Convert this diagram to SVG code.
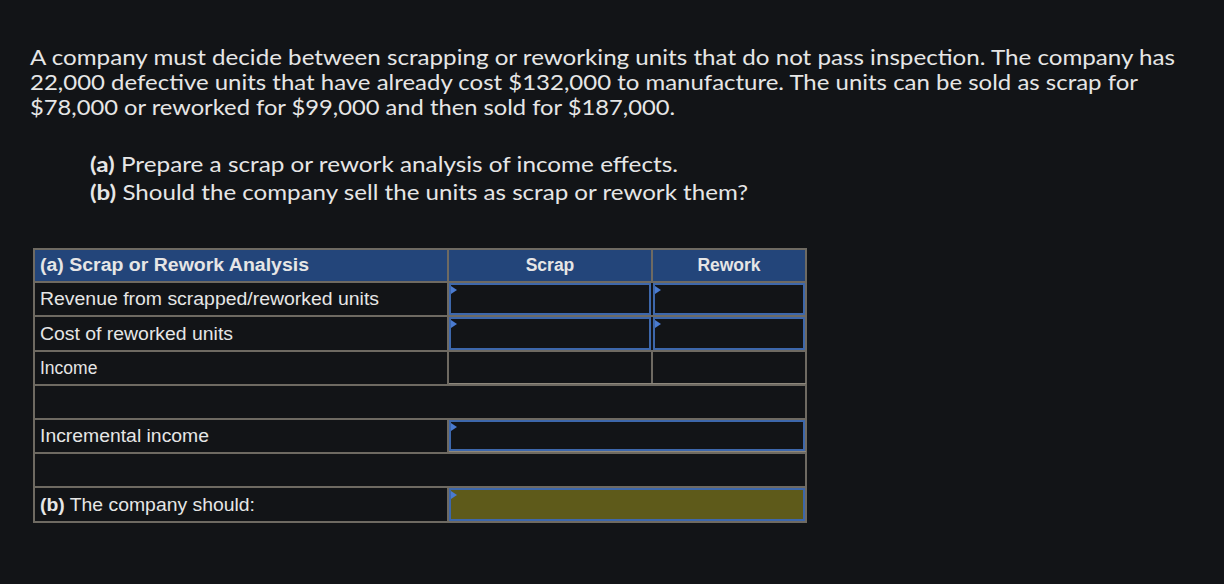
<svg xmlns="http://www.w3.org/2000/svg" width="1224" height="584" viewBox="0 0 1224 584">
<style>
.t{font-family:"Lato","Liberation Sans",sans-serif;fill:#e6e6e6}
.q{font-size:20.5px}
.c{font-size:17.5px;font-family:"Liberation Sans",Arial,sans-serif}
.b{font-weight:bold}
.cell{fill:#121417;stroke:#6e6a62;stroke-width:2}
.hd{fill:#23457a;stroke:#6e6a62;stroke-width:2}
.in{fill:#121417;stroke:#3d67ab;stroke-width:2}
.flag{fill:#4a7bd0}
.rule{fill:#8c877c}
</style>
<rect width="1224" height="584" fill="#121417"/>
<g id="question">
<text class="t q" x="30" y="65" textLength="1145" lengthAdjust="spacingAndGlyphs">A company must decide between scrapping or reworking units that do not pass inspection. The company has</text>
<text class="t q" x="30" y="90" textLength="1108" lengthAdjust="spacingAndGlyphs">22,000 defective units that have already cost $132,000 to manufacture. The units can be sold as scrap for</text>
<text class="t q" x="30" y="115" textLength="645" lengthAdjust="spacingAndGlyphs">$78,000 or reworked for $99,000 and then sold for $187,000.</text>
<text class="t q" x="90" y="172" textLength="588" lengthAdjust="spacingAndGlyphs"><tspan class="b">(a)</tspan> Prepare a scrap or rework analysis of income effects.</text>
<text class="t q" x="90" y="200" textLength="658" lengthAdjust="spacingAndGlyphs"><tspan class="b">(b)</tspan> Should the company sell the units as scrap or rework them?</text>
</g>
<g id="table">
<rect class="hd" x="34" y="249" width="414" height="33"/>
<rect class="hd" x="448" y="249" width="204" height="33"/>
<rect class="hd" x="652" y="249" width="154" height="33"/>
<text class="t c b" x="40" y="271" textLength="269" lengthAdjust="spacingAndGlyphs">(a) Scrap or Rework Analysis</text>
<text class="t c b" x="550" y="271" text-anchor="middle">Scrap</text>
<text class="t c b" x="729" y="271" text-anchor="middle">Rework</text>

<rect class="cell" x="34" y="282" width="414" height="34"/>
<text class="t c" x="40" y="305" textLength="339" lengthAdjust="spacingAndGlyphs">Revenue from scrapped/reworked units</text>
<rect class="cell" x="448" y="282" width="358" height="34"/>
<rect class="in" x="450" y="284" width="200" height="30"/>
<rect class="in" x="654" y="284" width="150" height="30"/>
<path class="flag" d="M451 286l6 4-6 4z"/><path class="flag" d="M655 286l6 4-6 4z"/>

<rect class="cell" x="34" y="316" width="414" height="35"/>
<text class="t c" x="40" y="340" textLength="193" lengthAdjust="spacingAndGlyphs">Cost of reworked units</text>
<rect class="cell" x="448" y="316" width="358" height="35"/>
<rect class="in" x="450" y="318" width="200" height="31"/>
<rect class="in" x="654" y="318" width="150" height="31"/>
<path class="flag" d="M451 320l6 4-6 4z"/><path class="flag" d="M655 320l6 4-6 4z"/>

<rect class="cell" x="34" y="351" width="414" height="34"/>
<text class="t c" x="40" y="374">Income</text>
<rect class="cell" x="448" y="351" width="204" height="34"/>
<rect class="cell" x="652" y="351" width="154" height="34"/>
<rect class="rule" x="449" y="383" width="357" height="3"/>

<rect class="cell" x="34" y="385" width="772" height="34"/>

<rect class="cell" x="34" y="419" width="414" height="34"/>
<text class="t c" x="40" y="442" textLength="169" lengthAdjust="spacingAndGlyphs">Incremental income</text>
<rect class="cell" x="448" y="419" width="358" height="34"/>
<rect class="in" x="450" y="421" width="354" height="29"/>
<path class="flag" d="M451 423l6 4-6 4z"/>
<rect class="rule" x="449" y="451" width="357" height="3"/>

<rect class="cell" x="34" y="453" width="772" height="34"/>

<rect class="cell" x="34" y="487" width="414" height="35"/>
<text class="t c" x="40" y="511" textLength="215" lengthAdjust="spacingAndGlyphs"><tspan class="b">(b)</tspan> The company should:</text>
<rect class="cell" x="448" y="487" width="358" height="35"/>
<rect class="in" x="450" y="489" width="354" height="31" style="fill:#5e5a1a"/>
<path class="flag" d="M451 491l6 4-6 4z"/>
</g>
</svg>
